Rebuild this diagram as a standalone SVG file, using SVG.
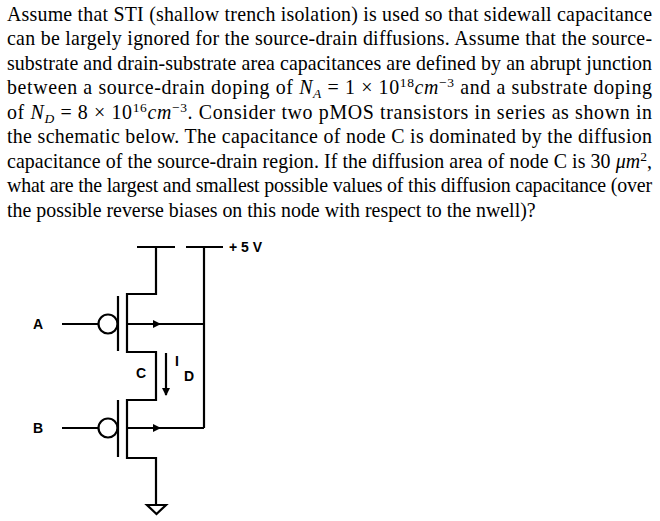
<svg xmlns="http://www.w3.org/2000/svg" width="660" height="521" viewBox="0 0 660 521">
<style>
text.t{font-family:'Liberation Serif','Times New Roman',Times,serif;font-size:19.9px;fill:#000}
.i{font-style:italic}
.s{font-size:13.5px}
.w{stroke:#000;stroke-width:2.2;fill:none}
text.l{font-family:'Liberation Sans',Arial,sans-serif;font-weight:bold;font-size:14px;fill:#000}
</style>
<defs>
<marker id="ah" markerWidth="8" markerHeight="8" refX="7" refY="4" orient="auto" markerUnits="userSpaceOnUse"><path d="M0,0 L8,4 L0,8 Z" fill="#000"/></marker>
</defs>
<g id="text">
<text class="t" x="7" y="20.5" textLength="645" lengthAdjust="spacing">Assume that STI (shallow trench isolation) is used so that sidewall capacitance</text>
<text class="t" x="7" y="45" textLength="645" lengthAdjust="spacing">can be largely ignored for the source-drain diffusions.  Assume that the source-</text>
<text class="t" x="7" y="69.5" textLength="645" lengthAdjust="spacing">substrate and drain-substrate area  capacitances are defined by an abrupt junction</text>
<text class="t" x="7" y="94" textLength="645" lengthAdjust="spacing">between a source-drain doping of <tspan class="i">N</tspan><tspan class="i s" dy="4">A</tspan><tspan dy="-4"> = 1 × 10</tspan><tspan class="s" dy="-7">18</tspan><tspan class="i" dy="7">cm</tspan><tspan class="s" dy="-7">−3</tspan><tspan dy="7"> and a substrate doping</tspan></text>
<text class="t" x="7" y="118.5" textLength="645" lengthAdjust="spacing">of <tspan class="i">N</tspan><tspan class="i s" dy="4">D</tspan><tspan dy="-4"> = 8 × 10</tspan><tspan class="s" dy="-7">16</tspan><tspan class="i" dy="7">cm</tspan><tspan class="s" dy="-7">−3</tspan><tspan dy="7">.  Consider two pMOS transistors in series as shown in</tspan></text>
<text class="t" x="7" y="143" textLength="645" lengthAdjust="spacing">the schematic below.  The capacitance of node C is dominated by the diffusion</text>
<text class="t" x="7" y="167.5" textLength="645" lengthAdjust="spacing">capacitance of the source-drain region. If the diffusion area of node C is 30 <tspan class="i">μm</tspan><tspan class="s" dy="-7">2</tspan><tspan dy="7">,</tspan></text>
<text class="t" x="7" y="192" textLength="645" lengthAdjust="spacing">what are the largest and smallest possible values of this diffusion capacitance (over</text>
<text class="t" x="7" y="216.5">the possible reverse biases on this node with respect to the nwell)?</text>
</g>
<g id="connectors">
<path class="w" d="M137,247 H175 M186,247 H223"/>
<path class="w" d="M156,247 V294 H127 V352 H156 V400 H127 V458 H156 V505"/>
<path class="w" d="M204,247 V428"/>
<path class="w" d="M118,296 V351 M118,400 V457"/>
<path class="w" d="M62,324 H98 M62,428 H98"/>
<path class="w" d="M127,324 H204 M127,428 H204"/>
<path class="w" d="M127,324 H160" marker-end="url(#ah)"/>
<path class="w" d="M127,428 H160" marker-end="url(#ah)"/>
<path class="w" d="M166,353 V395" marker-end="url(#ah)"/>
<path class="w" d="M147,505 H166 L156.5,514 Z"/>
</g>
<g id="A"><circle class="w" cx="108" cy="324" r="9.5"/><text class="l" x="33" y="329">A</text></g>
<g id="B"><circle class="w" cx="108" cy="428" r="9.5"/><text class="l" x="33" y="433">B</text></g>
<g id="C"><text class="l" x="136" y="378">C</text></g>
<g id="ID"><text class="l" x="175" y="366">I</text><text class="l" x="184" y="381">D</text></g>
<g id="vdd"><text class="l" x="229" y="252">+ 5 V</text></g>
</svg>
